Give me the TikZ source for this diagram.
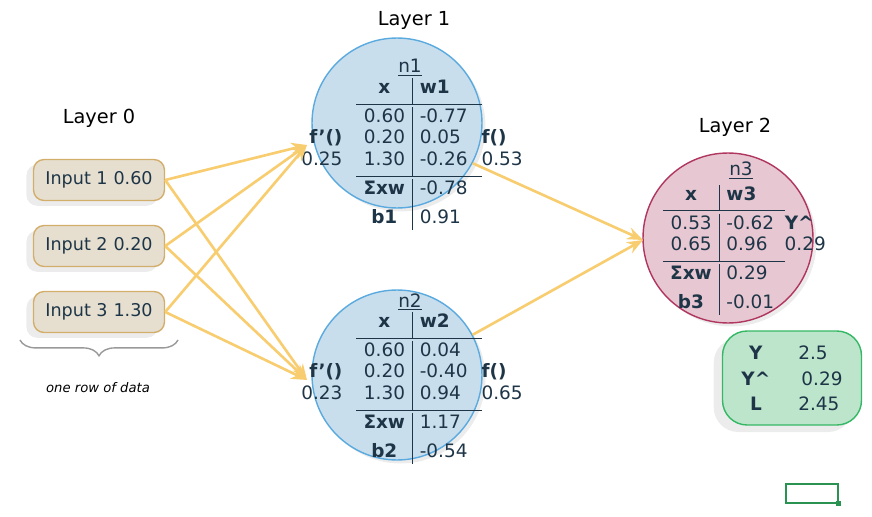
\documentclass[tikz,border=0pt]{standalone}
\usepackage{fontspec}
\setmainfont{DejaVu Sans}
\usepackage{array}
\usetikzlibrary{arrows.meta, calc, shadows, decorations.pathreplacing}

\definecolor{ink}{HTML}{1E3547}
\definecolor{blueFill}{HTML}{C9DEEC}
\definecolor{blueLine}{HTML}{5AAADF}
\definecolor{pinkFill}{HTML}{E7C8D2}
\definecolor{pinkLine}{HTML}{B0365F}
\definecolor{greenFill}{HTML}{BCE5CC}
\definecolor{greenLine}{HTML}{35B865}
\definecolor{sandFill}{HTML}{E6DFD0}
\definecolor{sandLine}{HTML}{D2AE6A}
\definecolor{wire}{HTML}{F8CD70}

\tikzset{
    neuron/.style={circle, draw=#1Line, fill=#1Fill, thick, minimum size=3.4cm,
        drop shadow={opacity=0.15, shadow xshift=2pt, shadow yshift=-2pt}},
    inbox/.style={rounded corners=6pt, draw=sandLine, fill=sandFill, thick,
        minimum width=2.62cm, minimum height=0.82cm, text=ink,
        drop shadow={opacity=0.15, shadow xshift=-4pt, shadow yshift=-3pt}},
    link/.style={wire, line width=1.5pt, -{Stealth[length=9pt, width=7pt]}},
    layer/.style={font=\fontsize{11}{13}\selectfont},
    tbl/.style={text=ink, font=\fontsize{10.5}{13}\selectfont, inner sep=0pt}
}
\newcommand{\hd}[1]{\multicolumn{1}{c|}{\textbf{#1}}}
\newcommand{\gap}{\noalign{\vskip 2pt}}

\begin{document}
\begin{tikzpicture}[x=0.02cm, y=-0.02cm]

    % --- Frame ---
    \useasboundingbox (0,0) rectangle (872,517);

    % --- Layer titles ---
    \node[layer] (l0) at (99,118) {Layer 0};
    \node[layer] (l1) at (414,20) {Layer 1};
    \node[layer] (l2) at (735,127) {Layer 2};

    % --- Inputs ---
    \node[inbox] (i1) at (99,180) {Input 1\,\,0.60};
    \node[inbox] (i2) at (99,246) {Input 2\,\,0.20};
    \node[inbox] (i3) at (99,312) {Input 3\,\,1.30};

    \draw[decorate, decoration={brace, mirror, amplitude=9pt}, gray!80, thick]
        (20,340) -- (178,340);
    \node[font=\fontsize{7.5}{9}\selectfont\itshape] (row) at (98,388) {one row of data};

    % --- Neurons ---
    \node[neuron=blue] (n1) at (397,123) {};
    \node[neuron=blue] (n2) at (397,375) {};
    \node[neuron=pink] (n3) at (728,238) {};

    \node[tbl] (n1t) at (410,68) {\underline{n1}};
    \node[tbl] (n1b) at (412,154) {%
        \renewcommand{\arraystretch}{0.95}\setlength{\tabcolsep}{4pt}%
        \begin{tabular}{r@{\hspace{8pt}}r|l@{\hspace{8pt}}l}
            & \hd{x} & \textbf{w1} & \\[2pt] \cline{2-3} \gap
            & 0.60 & -0.77 & \\
            \textbf{f'()} & 0.20 & 0.05 & \textbf{f()} \\
            0.25 & 1.30 & -0.26 & 0.53 \\[2pt] \cline{2-3} \gap
            & \hd{Σxw} & -0.78 & \\[4pt]
            & \hd{b1} & 0.91 &
        \end{tabular}};

    \node[tbl] (n2t) at (410,302) {\underline{n2}};
    \node[tbl] (n2b) at (412,388) {%
        \renewcommand{\arraystretch}{0.95}\setlength{\tabcolsep}{4pt}%
        \begin{tabular}{r@{\hspace{8pt}}r|l@{\hspace{8pt}}l}
            & \hd{x} & \textbf{w2} & \\[2pt] \cline{2-3} \gap
            & 0.60 & 0.04 & \\
            \textbf{f'()} & 0.20 & -0.40 & \textbf{f()} \\
            0.23 & 1.30 & 0.94 & 0.65 \\[2pt] \cline{2-3} \gap
            & \hd{Σxw} & 1.17 & \\[4pt]
            & \hd{b2} & -0.54 &
        \end{tabular}};

    \node[tbl] (n3t) at (741,171) {\underline{n3}};
    \node[tbl] (n3b) at (748,250) {%
        \renewcommand{\arraystretch}{0.95}\setlength{\tabcolsep}{4pt}%
        \begin{tabular}{r|l@{\hspace{6pt}}l}
            \hd{x} & \textbf{w3} & \\[2pt] \cline{1-2} \gap
            0.53 & -0.62 & \textbf{Y\^{}} \\
            0.65 & 0.96 & 0.29 \\[2pt] \cline{1-2} \gap
            \hd{Σxw} & 0.29 & \\[4pt]
            \hd{b3} & -0.01 &
        \end{tabular}};

    % --- Loss box ---
    \node[rounded corners=14pt, draw=greenLine, fill=greenFill, thick,
          minimum width=2.78cm, minimum height=1.88cm,
          drop shadow={opacity=0.15, shadow xshift=-5pt, shadow yshift=-4pt}]
        (loss) at (792,378) {};
    \node[tbl] (lossv) at (792,380) {%
        \renewcommand{\arraystretch}{1.1}\setlength{\tabcolsep}{8pt}%
        \begin{tabular}{c l}
            \textbf{Y} & 2.5 \\
            \textbf{Y\^{}} & \,0.29 \\
            \textbf{L} & 2.45
        \end{tabular}};

    % --- Connections ---
    \coordinate (n1in) at (307,145);
    \coordinate (n2in) at (307,380);
    \coordinate (n3in) at (643,240);
    \foreach \src in {i1, i2, i3} {
        \draw[link] (\src.east) -- (n1in);
        \draw[link] (\src.east) -- (n2in);
    }
    \draw[link] (n1.-28) -- (n3in);
    \draw[link] (n2.28) -- (n3in);

    % --- Cell marker ---
    \draw[greenLine!80!black, thick] (786,484) rectangle (838,503);
    \fill[greenLine!80!black] (836,501) rectangle (841,506);

\end{tikzpicture}
\end{document}
